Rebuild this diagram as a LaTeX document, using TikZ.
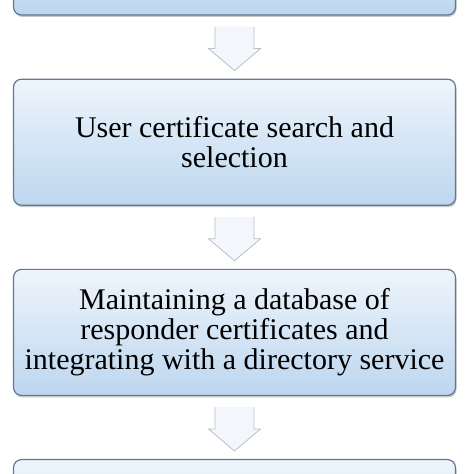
\documentclass[tikz,border=0pt]{standalone}
\usepackage{fontspec}
\setmainfont{Liberation Serif}
\usepackage{tikz}
\usetikzlibrary{positioning,calc,shadows}

\definecolor{boxtop}{HTML}{EEF5FC}
\definecolor{boxbottom}{HTML}{BDD6EF}
\definecolor{boxline}{HTML}{647790}
\definecolor{arrowfill}{HTML}{F3F6FA}
\definecolor{arrowline}{HTML}{B9C0C8}

\tikzset{
  stepbox/.style={draw=boxline, line width=1.2pt, rounded corners=8pt,
    top color=boxtop, bottom color=boxbottom,
    minimum width=442pt, minimum height=126pt, align=center,
    font=\fontsize{30}{30}\selectfont,
    drop shadow={opacity=0.45, shadow xshift=1pt, shadow yshift=-2pt}},
  fatarrow/.style={draw=arrowline, fill=arrowfill, line width=0.8pt, line join=miter,
    to path={let \p1=(\tikztostart.south), \p2=(\tikztotarget.north) in
      (\x1-19.5pt,\y1-11pt) -- (\x1-19.5pt,\y2+30pt) -- (\x1-26pt,\y2+30pt)
      -- (\x1,\y2+8pt) -- (\x1+26pt,\y2+30pt) -- (\x1+19.5pt,\y2+30pt)
      -- (\x1+19.5pt,\y1-11pt)}}
}

\begin{document}
\begin{tikzpicture}[x=1pt, y=1pt, node distance=63pt]
        \clip (0,0) rectangle (474,474);
        \node (B1) [stepbox] at (234.5, 522) {};
        \node (B2) [stepbox, below=of B1] {User certificate search and\\selection};
        \node (B3) [stepbox, below=of B2] {Maintaining a database of\\responder certificates and\\integrating with a directory service};
        \node (B4) [stepbox, below=of B3] {};

        \draw[fatarrow] (B1) to (B2);
        \draw[fatarrow] (B2) to (B3);
        \draw[fatarrow] (B3) to (B4);
    \end{tikzpicture}
\end{document}
